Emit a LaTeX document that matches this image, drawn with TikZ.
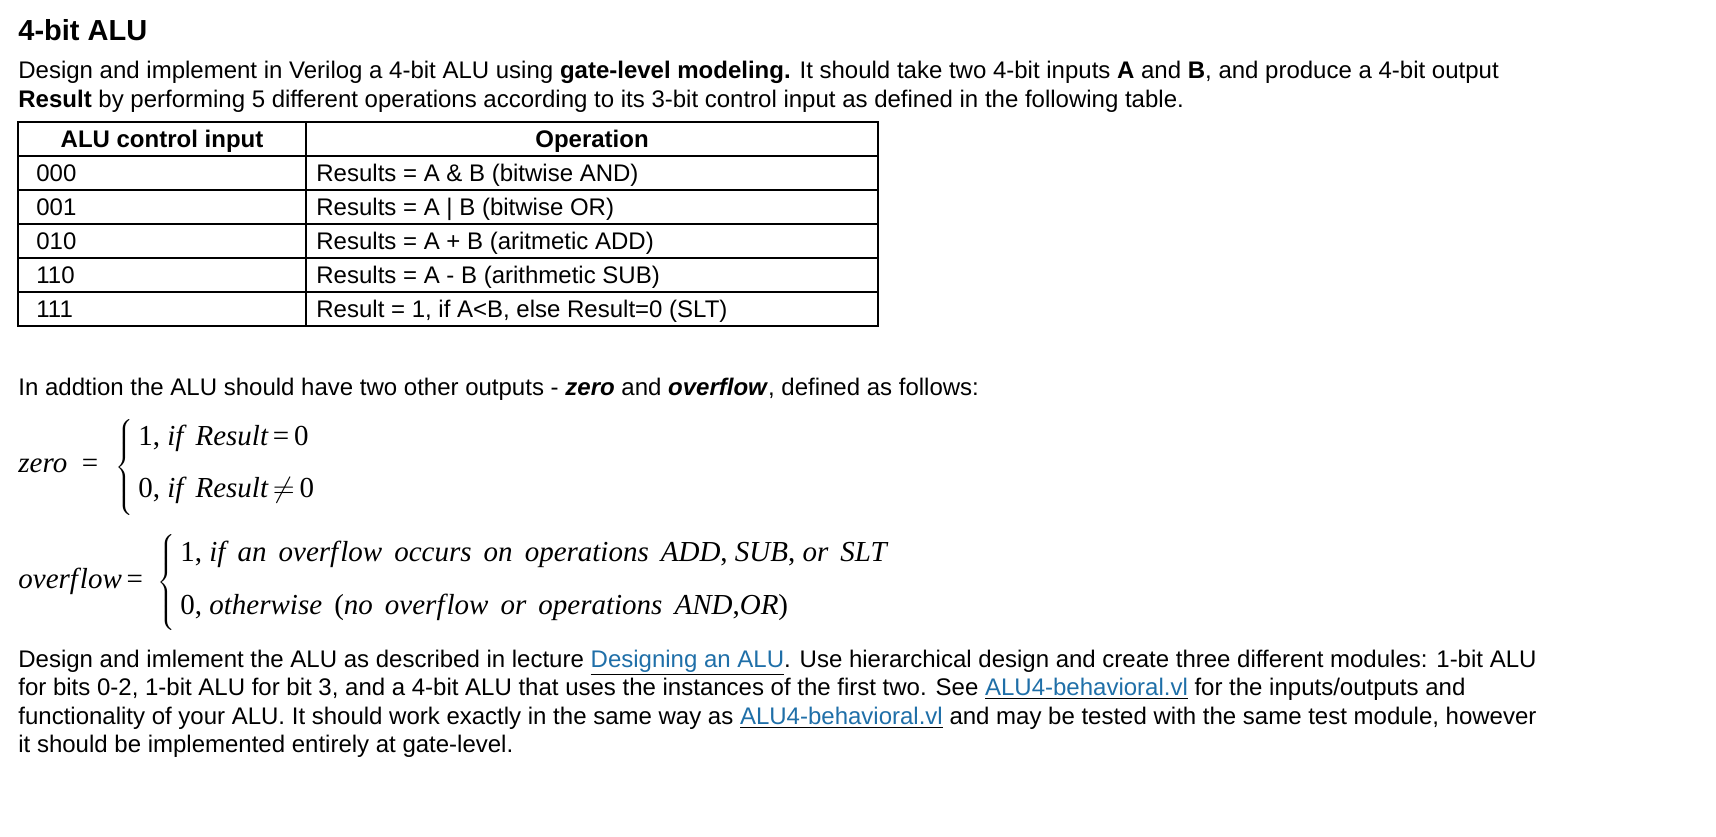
\documentclass[tikz,border=0pt]{standalone}
\usepackage{fontspec}
\setmainfont{Liberation Sans}
\newfontfamily\mathser{Liberation Serif}
\definecolor{linkc}{HTML}{1F6FA8}
\newcommand{\lnk}[1]{\textcolor{linkc}{#1}}
\begin{document}
\begin{tikzpicture}[x=0.5pt,y=-0.5pt,
  txt/.style={anchor=base west,inner sep=0pt,font=\fontsize{12pt}{14pt}\selectfont},
  mth/.style={anchor=base west,inner sep=0pt,font=\mathser\itshape\fontsize{14.5pt}{16pt}\selectfont}]
\useasboundingbox (0,0) rectangle (1716,836);
\node[txt,font=\bfseries\fontsize{14.5pt}{16pt}\selectfont] (title) at (18,40) {4-bit ALU};
\node[txt] (p1) at (18,78) {Design and implement in Verilog a 4-bit ALU using \textbf{gate-level modeling.} It should take two 4-bit inputs \textbf{A} and \textbf{B}, and produce a 4-bit output};
\node[txt] (p2) at (18,107) {\textbf{Result} by performing 5 different operations according to its 3-bit control input as defined in the following table.};
% table
\draw[line width=0.6pt] (18,122) rectangle (878,326);
\foreach \y in {156,190,224,258,292} \draw[line width=0.6pt] (18,\y) -- (878,\y);
\draw[line width=0.6pt] (306,122) -- (306,326);
\node[txt,font=\bfseries\fontsize{12pt}{14pt}\selectfont,anchor=base] (h1) at (162,147) {ALU control input};
\node[txt,font=\bfseries\fontsize{12pt}{14pt}\selectfont,anchor=base] (h2) at (592,147) {Operation};
\foreach \c/\o [count=\i] in {000/{Results = A \& B (bitwise AND)},001/{Results = A | B (bitwise OR)},010/{Results = A + B (aritmetic ADD)},110/{Results = A - B (arithmetic SUB)},111/{Result = 1, if A<B, else Result=0 (SLT)}}{
  \node[txt] (c\i) at (36,147+34*\i) {\c};
  \node[txt] (o\i) at (316,147+34*\i) {\o};
}
\node[txt] (p3) at (18,395) {In addtion the ALU should have two other outputs - \textbf{\textit{zero}} and \textbf{\textit{overflow}}, defined as follows:};
% zero
\node[mth] (z) at (18,472) {zero \ \upshape=};
\node[inner sep=0pt] (zb) at (126,465) {$\left\{\rule{0pt}{29pt}\right.$};
\node[mth] (z1) at (138,445) {\upshape 1, \itshape if\, Result\upshape\,=\,0};
\node[mth] (z0) at (138,497) {\upshape 0, \itshape if\, Result\upshape\,$\neq$\,0};
% overflow
\node[mth] (ov) at (18,588) {overf\kern1pt low\,\upshape=};
\node[inner sep=0pt] (ob) at (168,580) {$\left\{\rule{0pt}{29pt}\right.$};
\node[mth] (o1) at (180,561) {\upshape 1, \itshape if\, an\, overf\kern1pt low\, occurs\, on\, operations\, ADD\upshape, \itshape SUB\upshape, \itshape or\, SLT};
\node[mth] (o0) at (180,614) {\upshape 0, \itshape otherwise\, \upshape(\itshape no\, overf\kern1pt low\, or\, operations\, AND\upshape,\itshape OR\upshape)};
% final paragraph
\node[txt] (q1) at (18,667) {Design and imlement the ALU as described in lecture \underline{\lnk{Designing an ALU}}. Use hierarchical design and create three different modules: 1-bit ALU};
\node[txt] (q2) at (18,695) {for bits 0-2, 1-bit ALU for bit 3, and a 4-bit ALU that uses the instances of the first two. See \underline{\lnk{ALU4-behavioral.vl}} for the inputs/outputs and};
\node[txt] (q3) at (18,724) {functionality of your ALU. It should work exactly in the same way as \underline{\lnk{ALU4-behavioral.vl}} and may be tested with the same test module, however};
\node[txt] (q4) at (18,752) {it should be implemented entirely at gate-level.};
\end{tikzpicture}
\end{document}
